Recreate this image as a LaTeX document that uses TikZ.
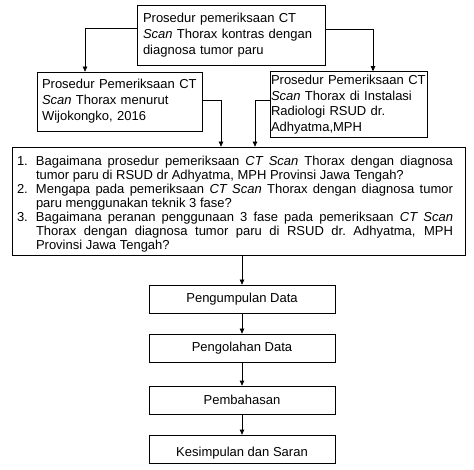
\documentclass[tikz,border=0pt]{standalone}
\usepackage{fontspec}
\setmainfont{Liberation Sans}
\usetikzlibrary{arrows.meta}

\newcommand{\butir}[1]{\hangindent=19pt\hangafter=1\noindent\makebox[19pt][l]{#1}\ignorespaces}

\begin{document}
\begin{tikzpicture}[x=1pt, y=-1pt,
    kotak/.style={draw, line width=0.7pt, rectangle, align=left, font=\fontsize{13}{16}\selectfont},
    langkah/.style={draw, line width=0.7pt, rectangle, minimum width=186pt, minimum height=28pt, font=\fontsize{13}{16}\selectfont},
    panah/.style={-{Triangle[length=5pt,width=4.5pt]}, line width=0.7pt}]
              \useasboundingbox (0,0) rectangle (474,470);
              % Kotak
              \node[kotak, minimum width=188pt, minimum height=60pt, inner xsep=6pt, text width=176pt] (atas) at (231,35) {Prosedur pemeriksaan CT\\ \textit{Scan} Thorax kontras dengan\\ diagnosa tumor paru};
              \node[kotak, minimum width=165pt, minimum height=59pt, inner xsep=5pt, text width=155pt] (kiri) at (119.5,101.5) {Prosedur Pemeriksaan CT\\ \textit{Scan} Thorax menurut\\ Wijokongko, 2016};
              \node[kotak, minimum width=157pt, minimum height=57pt, inner xsep=1pt, text width=155pt, font=\fontsize{13}{15.7}\selectfont] (kanan) at (348.5,104.5) {Prosedur Pemeriksaan CT\\ \textit{Scan} Thorax di Instalasi\\ Radiologi RSUD dr.\\ Adhyatma,MPH};
              \node[draw, line width=0.7pt, rectangle, minimum width=453pt, minimum height=108pt, inner xsep=5pt, inner ysep=0pt] (masalah) at (238.5,201) {\begin{minipage}{443pt}
                \vspace*{7pt}
                \fontsize{13}{14}\selectfont\rightskip=7pt
                \butir{1.}Bagaimana prosedur pemeriksaan \textit{CT Scan} Thorax dengan diagnosa\linebreak tumor paru di RSUD dr Adhyatma, MPH Provinsi Jawa Tengah?\par
                \butir{2.}Mengapa pada pemeriksaan \textit{CT Scan} Thorax dengan diagnosa tumor\linebreak paru menggunakan teknik 3 fase?\par
                \butir{3.}Bagaimana peranan penggunaan 3 fase pada pemeriksaan \textit{CT Scan}\linebreak Thorax dengan diagnosa tumor paru di RSUD dr.\ Adhyatma, MPH\linebreak Provinsi Jawa Tengah?\par
                \end{minipage}};
              \node[langkah] (kumpul) at (242,299) {Pengumpulan Data};
              \node[langkah] (olah) at (242,348) {Pengolahan Data};
              \node[langkah] (bahas) at (242,400) {Pembahasan};
              \node[langkah, text height=14pt, text depth=0pt] (simpul) at (242,449) {Kesimpulan dan Saran};

              % Panah
              \draw[panah] ([yshift=7pt]atas.west) -| ([xshift=-34.5pt]kiri.north);
              \draw[panah] ([yshift=6pt]atas.east) -| ([xshift=24.5pt]kanan.north);
              \draw[panah] ([yshift=1.5pt]kiri.east) -| ([xshift=-17.5pt]masalah.north);
              \draw[panah] ([yshift=4.5pt]kanan.west) -| ([xshift=16.5pt]masalah.north);
              \draw[panah] (kumpul.north |- masalah.south) -- (kumpul);
              \draw[panah] (kumpul) -- (olah);
              \draw[panah] (olah) -- (bahas);
              \draw[panah] (bahas) -- (simpul);
            \end{tikzpicture}
\end{document}
